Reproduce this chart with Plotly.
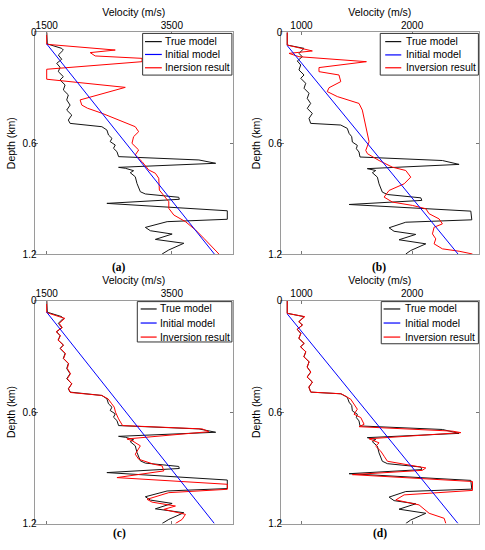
import plotly.graph_objects as go

# ---------------- data ----------------
# True model used in panels (a) and (c)  (velocity m/s vs depth km)
true_a_depth = [0, 0.063, 0.087, 0.096, 0.123, 0.146, 0.168, 0.189, 0.213, 0.240, 0.258, 0.285,
                0.312, 0.339, 0.366, 0.394, 0.421, 0.448, 0.475, 0.493, 0.511, 0.529, 0.556, 0.574,
                0.592, 0.610, 0.628, 0.646, 0.673, 0.691, 0.709, 0.731, 0.736, 0.749, 0.760, 0.782,
                0.818, 0.863, 0.875, 0.893, 0.904, 0.926, 0.966, 1.012, 1.025, 1.056, 1.074, 1.092,
                1.121, 1.142, 1.178, 1.2]
true_a_vel = [1500, 1510, 1740, 1766, 1686, 1740, 1660, 1713, 1686, 1766, 1713, 1794,
              1766, 1846, 1820, 1874, 1820, 1901, 1846, 1874, 2382, 2462, 2488, 2543,
              2515, 2596, 2568, 2623, 2649, 3933, 4201, 2649, 2757, 2889, 2836, 2916,
              2943, 2997, 3077, 3611, 3620, 2462, 4387, 4387, 3425, 3077, 3157, 3505,
              3237, 3692, 3452, 3345]

# True model used in panels (b) and (d)
true_b_depth = [0, 0.069, 0.087, 0.114, 0.132, 0.155, 0.177, 0.204, 0.231, 0.249, 0.276, 0.303,
                0.330, 0.358, 0.385, 0.412, 0.439, 0.466, 0.493, 0.502, 0.520, 0.547, 0.565, 0.594,
                0.612, 0.630, 0.648, 0.675, 0.694, 0.715, 0.738, 0.748, 0.760, 0.784, 0.820, 0.865,
                0.878, 0.896, 0.910, 0.932, 0.968, 1.015, 1.028, 1.058, 1.077, 1.094, 1.123, 1.145,
                1.181, 1.2]
true_b_vel = [871, 871, 1023, 977, 1007, 962, 993, 977, 1023, 993, 1038, 1023,
              1068, 1052, 1083, 1052, 1098, 1068, 1083, 1355, 1414, 1430, 1454, 1460,
              1505, 1496, 1520, 1529, 2274, 2425, 1595, 1671, 1641, 1686, 1701, 1731,
              1777, 2079, 2088, 1430, 2531, 2540, 1943, 1792, 1837, 2033, 1882, 2124,
              1988, 1943]

# Initial (linear) models
init_a_depth = [0.063, 1.2]
init_a_vel = [1500, 4180]
init_b_depth = [0.072, 1.2]
init_b_vel = [871, 2415]

# Inversion results
inv_a_depth = [0, 0.065, 0.096, 0.110, 0.128, 0.141, 0.159, 0.200, 0.254, 0.298, 0.366, 0.394,
               0.411, 0.438, 0.511, 0.538, 0.565, 0.601, 0.637, 0.664, 0.700, 0.745, 0.763, 0.790,
               0.854, 0.881, 0.917, 0.953, 0.989, 1.025, 1.070, 1.115, 1.160, 1.2]
inv_a_vel = [1500, 1500, 2596, 2195, 2275, 3024, 3024, 1500, 1500, 2756, 2034, 2061,
             2152, 2382, 2916, 2970, 2889, 2863, 2970, 2916, 3024, 3130, 3237, 3291,
             3301, 3372, 3452, 3452, 3532, 3718, 3879, 4012, 4146, 4253]

inv_b_depth = [0, 0.069, 0.101, 0.114, 0.132, 0.159, 0.191, 0.213, 0.231, 0.267, 0.300, 0.321,
               0.348, 0.385, 0.421, 0.466, 0.520, 0.547, 0.592, 0.639, 0.657, 0.694, 0.730, 0.748,
               0.784, 0.820, 0.856, 0.892, 0.919, 0.937, 0.955, 0.982, 1.010, 1.037, 1.055, 1.091,
               1.118, 1.145, 1.172, 1.185, 1.2]
inv_b_vel = [871, 871, 1098, 887, 977, 1587, 1158, 1158, 1339, 1355, 1249, 1233,
             1324, 1520, 1550, 1566, 1581, 1596, 1611, 1581, 1596, 1701, 1822, 1943,
             1988, 1928, 1792, 1747, 1822, 2003, 2124, 2154, 2244, 2274, 2199, 2184,
             2214, 2199, 2274, 2425, 2546]

inv_c_depth = [0, 0.065, 0.087, 0.096, 0.123, 0.146, 0.168, 0.189, 0.213, 0.240, 0.258, 0.285,
               0.312, 0.339, 0.366, 0.394, 0.421, 0.448, 0.475, 0.495, 0.511, 0.529, 0.556, 0.574,
               0.601, 0.637, 0.673, 0.691, 0.706, 0.745, 0.754, 0.782, 0.827, 0.854, 0.881, 0.890,
               0.917, 0.953, 0.989, 1.016, 1.034, 1.070, 1.085, 1.106, 1.124, 1.151, 1.178, 1.2]
inv_c_vel = [1500, 1500, 1700, 1790, 1700, 1750, 1650, 1720, 1680, 1770, 1720, 1800,
             1770, 1850, 1830, 1880, 1830, 1900, 1850, 1880, 2380, 2480, 2540, 2580,
             2600, 2649, 2713, 3986, 4093, 2783, 2863, 2997, 2916, 2970, 3210, 3345,
             3372, 2623, 4387, 4387, 3452, 3104, 3184, 3558, 3372, 3718, 3665, 3558]

inv_d_depth = [0, 0.069, 0.087, 0.114, 0.132, 0.155, 0.177, 0.204, 0.231, 0.249, 0.276, 0.303,
               0.330, 0.358, 0.385, 0.412, 0.439, 0.466, 0.493, 0.502, 0.531, 0.558, 0.585, 0.612,
               0.630, 0.666, 0.679, 0.703, 0.711, 0.744, 0.757, 0.766, 0.784, 0.811, 0.838, 0.865,
               0.901, 0.914, 0.937, 0.974, 1.022, 1.046, 1.073, 1.100, 1.145, 1.172, 1.2]
inv_d_vel = [871, 871, 1030, 975, 1010, 960, 995, 975, 1025, 990, 1040, 1020,
             1070, 1050, 1085, 1050, 1100, 1065, 1085, 1360, 1445, 1475, 1505, 1475,
             1536, 1566, 1520, 2365, 2441, 1611, 1656, 1701, 1671, 1717, 1747, 1777,
             2124, 2093, 1460, 2546, 2546, 1928, 1853, 2063, 2154, 2290, 2305]

panel_labels = ["(a)", "(b)", "(c)", "(d)"]
legend_names = [["True model", "Initial model", "Inersion result"],
                ["True model", "Initial model", "Inversion result"],
                ["True model", "Initial model", "Inversion result"],
                ["True model", "Initial model", "Inversion result"]]
ticks_a = [1500, 3500]
ticks_b = [1000, 2000]
depth_ticks = [0, 0.6, 1.2]
depth_ticktext = ["0", "0.6", "1.2"]

# ---------------- layout helpers ----------------
W, H = 485, 550
BLACK, BLUE, RED = "#141414", "#0000ff", "#ff0000"
SANS = "Liberation Sans, Arial, sans-serif"

# pixel boxes (left, top, right, bottom)
boxes = [(35, 32.3, 232.5, 254), (280.7, 32.3, 479, 254),
         (35, 300.5, 232.5, 523.5), (280.7, 300.5, 479, 523.5)]
xranges = [[1313, 4470], [812, 2605], [1313, 4470], [812, 2605]]
xticks = [ticks_a, ticks_b, ticks_a, ticks_b]
XLAB_SHIFT = -1.5   # px offset of the label-carrying overlay axes
YLAB_SHIFT = 1.5

panels = [
    (true_a_depth, true_a_vel, init_a_depth, init_a_vel, inv_a_depth, inv_a_vel),
    (true_b_depth, true_b_vel, init_b_depth, init_b_vel, inv_b_depth, inv_b_vel),
    (true_a_depth, true_a_vel, init_a_depth, init_a_vel, inv_c_depth, inv_c_vel),
    (true_b_depth, true_b_vel, init_b_depth, init_b_vel, inv_d_depth, inv_d_vel),
]

# legend geometry in axis-domain coords: (box x0, box y0, line x0, line x1, text x, row ys)
legend_geo = [
    (0.545, 0.807, 0.557, 0.642, 0.650, [0.958, 0.900, 0.840]),
    (0.502, 0.807, 0.527, 0.608, 0.620, [0.958, 0.898, 0.840]),
    (0.518, 0.814, 0.535, 0.616, 0.624, [0.962, 0.899, 0.836]),
    (0.507, 0.806, 0.519, 0.603, 0.615, [0.962, 0.899, 0.836]),
]
label_pos = [(119, 267.5), (379, 267.5), (119, 533), (380, 533)]
ytitle_x = [11, 256, 11, 256]

fig = go.Figure()
layout = dict(width=W, height=H, margin=dict(l=0, r=0, t=0, b=0, autoexpand=False),
              paper_bgcolor="white", plot_bgcolor="white", showlegend=False,
              font=dict(family=SANS, size=10, color="black"))
shapes, annotations = [], []

for i, (td, tv, idp, iv, rd, rv) in enumerate(panels):
    n = "" if i == 0 else str(i + 1)
    m = str(i + 5)
    xa, ya = "x" + n, "y" + n
    xl, yl = "x" + m, "y" + m
    names = legend_names[i]
    fig.add_trace(go.Scatter(x=tv, y=td, mode="lines", name=names[0], xaxis=xa, yaxis=ya,
                             line=dict(color=BLACK, width=1)))
    fig.add_trace(go.Scatter(x=iv, y=idp, mode="lines", name=names[1], xaxis=xl, yaxis=yl,
                             line=dict(color=BLUE, width=1)))
    fig.add_trace(go.Scatter(x=rv, y=rd, mode="lines", name=names[2], xaxis=xa, yaxis=ya,
                             line=dict(color=RED, width=1)))

    l, t, r, b = boxes[i]
    xdom, ydom = [l / W, r / W], [1 - b / H, 1 - t / H]
    # frame + ticks
    layout["xaxis" + n] = dict(domain=xdom, range=xranges[i], anchor=ya, side="top",
                               tickvals=xticks[i], ticks="inside", ticklen=3, tickcolor="#777",
                               showticklabels=False, showline=True, linecolor="#9a9a9a",
                               linewidth=1, mirror="ticks", showgrid=False, zeroline=False,
                               automargin=False)
    layout["yaxis" + n] = dict(domain=ydom, range=[1.2, 0], anchor=xa,
                               tickvals=depth_ticks, ticks="inside", ticklen=3, tickcolor="#777",
                               showticklabels=False, showline=True, linecolor="#9a9a9a",
                               linewidth=1, mirror="ticks", showgrid=False, zeroline=False,
                               automargin=False)
    # tick labels + x title (same scale, overlaid)
    layout["xaxis" + m] = dict(overlaying=xa, anchor="free", position=1 - (t + XLAB_SHIFT) / H,
                               side="top", range=xranges[i], tickvals=xticks[i], ticks="",
                               showline=False, showgrid=False, zeroline=False,
                               tickfont=dict(size=10), automargin=False,
                               title=dict(text="Velocity (m/s)", font=dict(size=10.5), standoff=0))
    layout["yaxis" + m] = dict(overlaying=ya, anchor="free", position=(l + YLAB_SHIFT) / W,
                               side="left", range=[1.2, 0], tickvals=depth_ticks,
                               ticktext=depth_ticktext, ticks="", showline=False,
                               showgrid=False, zeroline=False, tickfont=dict(size=10),
                               automargin=False)
    # y-axis title
    annotations.append(dict(xref="paper", yref="paper", x=ytitle_x[i] / W,
                            y=1 - (t + b) / 2 / H, text="Depth (km)", textangle=-90,
                            showarrow=False, xanchor="center", yanchor="middle",
                            font=dict(family=SANS, size=10.5, color="black")))

    # legend box
    bx0, by0, lx0, lx1, tx, rows = legend_geo[i]
    xr, yr = xa + " domain", ya + " domain"
    shapes.append(dict(type="rect", xref=xr, yref=yr, x0=bx0, x1=0.997, y0=by0, y1=0.995,
                       line=dict(color="#333", width=1), fillcolor="white", layer="above"))
    for col, ry, txt in zip([BLACK, BLUE, RED], rows, names):
        shapes.append(dict(type="line", xref=xr, yref=yr, x0=lx0, x1=lx1, y0=ry, y1=ry,
                           line=dict(color=col, width=1.2), layer="above"))
        annotations.append(dict(xref=xr, yref=yr, x=tx, y=ry, text=txt, showarrow=False,
                                xanchor="left", yanchor="middle",
                                font=dict(family=SANS, size=10.3, color="black")))

    # panel label
    lab_x, lab_y = label_pos[i]
    annotations.append(dict(xref="paper", yref="paper", x=lab_x / W, y=1 - lab_y / H,
                            text="<b>%s</b>" % panel_labels[i], showarrow=False,
                            xanchor="center", yanchor="middle",
                            font=dict(family="Liberation Serif, Times New Roman, serif",
                                      size=11.5, color="black")))

layout["shapes"] = shapes
layout["annotations"] = annotations
fig.update_layout(**layout)
fig.write_html("out.html", config={"displayModeBar": False},
               post_script="document.body.style.margin='0';document.body.style.overflow='hidden';")
